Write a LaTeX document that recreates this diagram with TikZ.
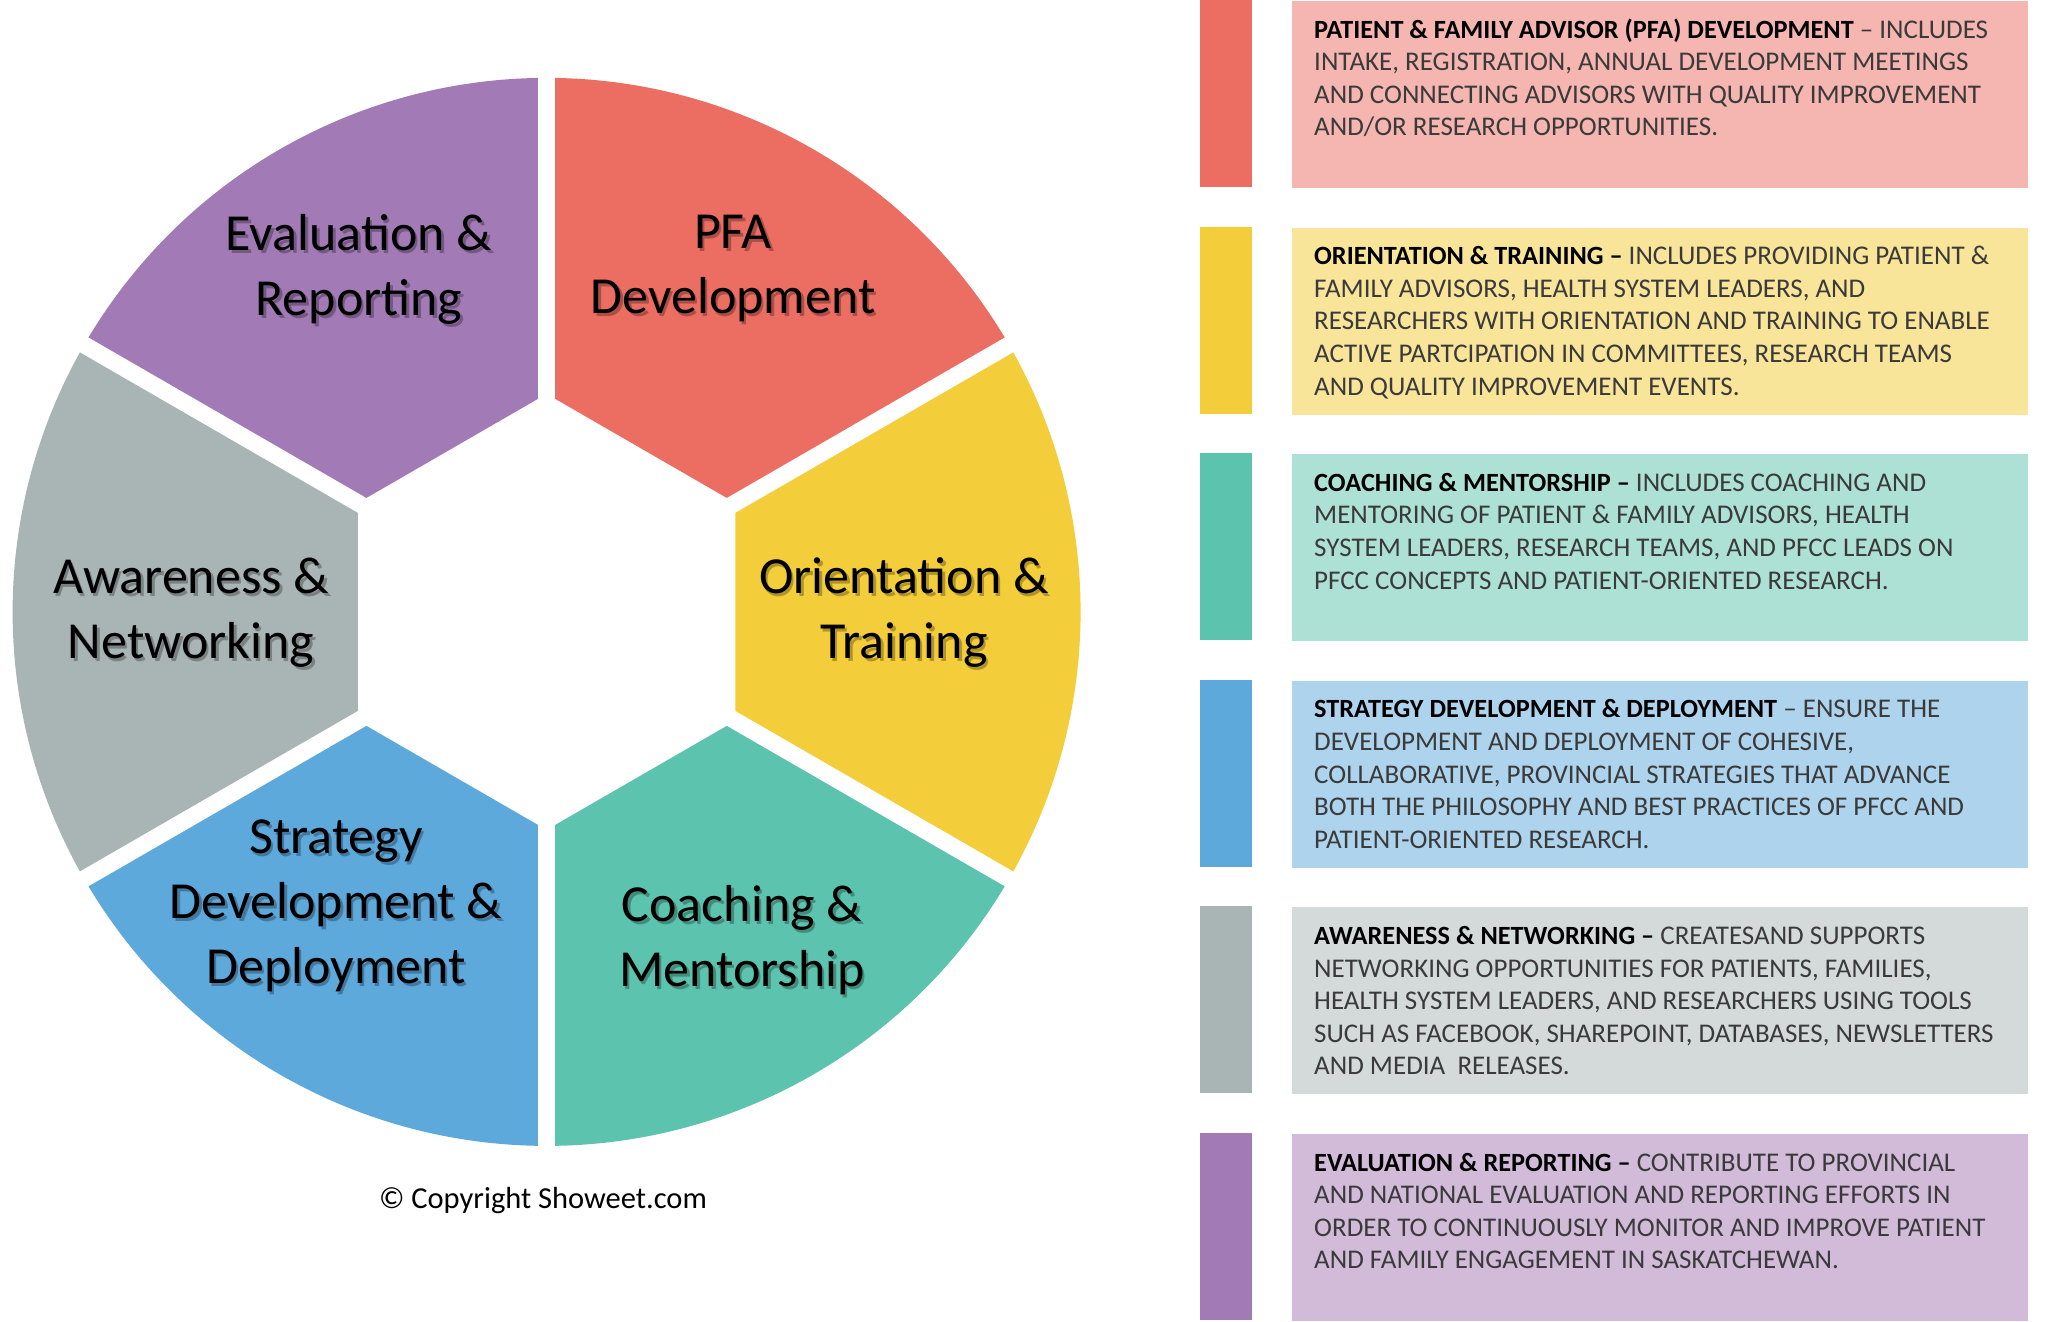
\documentclass[tikz,border=0pt]{standalone}
\usepackage{fontspec}
\setmainfont{Carlito}
\definecolor{cpfa}{HTML}{EC6D62}
\definecolor{cpfaL}{HTML}{F5B5B0}
\definecolor{cot}{HTML}{F4CE3A}
\definecolor{cotL}{HTML}{F8E59A}
\definecolor{ccm}{HTML}{5CC3AE}
\definecolor{ccmL}{HTML}{ADE1D5}
\definecolor{csdd}{HTML}{5EA9DB}
\definecolor{csddL}{HTML}{AED3EC}
\definecolor{cawn}{HTML}{A9B4B4}
\definecolor{cawnL}{HTML}{D4D9DA}
\definecolor{cevr}{HTML}{A27BB6}
\definecolor{cevrL}{HTML}{D1BBD9}
\definecolor{bodytext}{HTML}{3A3A3A}
\tikzset{
  seglabel/.style={font=\fontsize{52}{65}\selectfont, align=center, text=black, inner sep=0pt},
  segshadow/.style={font=\fontsize{52}{65}\selectfont, align=center, text=black, text opacity=0.28, inner sep=0pt},
  desc/.style={font=\fontsize{27}{32.6}\selectfont, align=left, text=bodytext, anchor=north west, inner sep=0pt},
}
\newcommand{\hd}[1]{{\fontsize{26.3}{32.6}\selectfont\bfseries\color{black}#1}}
\begin{document}
\begin{tikzpicture}[x=1pt,y=1pt]
\useasboundingbox (0,0) rectangle (2048,1322);
\fill[white] (0,0) rectangle (2048,1322);
\coordinate (C) at (546.6,710.1);
% wheel segments
\begin{scope}[shift={(546.6,710.1)}]
\foreach \a/\c in {30/cpfa, 90/cevr, 150/cawn, 210/csdd, 270/ccm, 330/cot}{
  \pgfmathsetmacro{\b}{\a+60}
  \fill[\c] (\a:218) -- (\a:534) arc[start angle=\a, end angle=\b, radius=534] -- (\b:218) -- cycle;
}
\foreach \a in {30,90,150,210,270,330}{
  \draw[white, line width=17] (0,0) -- (\a:560);
}
\end{scope}
% labels
\foreach \n/\x/\y/\t in {lpfa/733/1053/{PFA\\Development}, lot/904/709/{Orientation \&\\Training}, lcm/742/382/{Coaching \&\\Mentorship}, lsdd/336/416/{Strategy\\Development \&\\Deployment}, lawn/191/709/{Awareness \&\\Networking}, levr/359/1053/{Evaluation \&\\Reporting}}{
  \node[segshadow] (\n s) at (\x+2.5,\y-3) {\t};
  \node[seglabel] (\n) at (\x,\y) {\t};
}
\node[font=\fontsize{30.5}{36}\selectfont, text=black, inner sep=0pt] (copy) at (543,121) {© Copyright Showeet.com};
% right column
\foreach \i/\c/\cl in {0/cpfa/cpfaL, 1/cot/cotL, 2/ccm/ccmL, 3/csdd/csddL, 4/cawn/cawnL, 5/cevr/cevrL}{
  \pgfmathsetmacro{\t}{1322-226.6*\i}
  \fill[\c] (1200,\t) rectangle (1252,\t-187);
  \fill[\cl] (1292,\t-1) rectangle (2028,\t-188);
}
\node[desc] (d1) at (1314,1322-15) {\strut\hd{PATIENT \& FAMILY ADVISOR (PFA) DEVELOPMENT} – INCLUDES\\INTAKE, REGISTRATION, ANNUAL DEVELOPMENT MEETINGS\\AND CONNECTING ADVISORS WITH QUALITY IMPROVEMENT\\AND/OR RESEARCH OPPORTUNITIES.};
\node[desc] (d2) at (1314,1322-226.6-15) {\strut\hd{ORIENTATION \& TRAINING –} INCLUDES PROVIDING PATIENT \&\\FAMILY ADVISORS, HEALTH SYSTEM LEADERS, AND\\RESEARCHERS WITH ORIENTATION AND TRAINING TO ENABLE\\ACTIVE PARTCIPATION IN COMMITTEES, RESEARCH TEAMS\\AND QUALITY IMPROVEMENT EVENTS.};
\node[desc] (d3) at (1314,1322-453.2-15) {\strut\hd{COACHING \& MENTORSHIP –} INCLUDES COACHING AND\\MENTORING OF PATIENT \& FAMILY ADVISORS, HEALTH\\SYSTEM LEADERS, RESEARCH TEAMS, AND PFCC LEADS ON\\PFCC CONCEPTS AND PATIENT-ORIENTED RESEARCH.};
\node[desc] (d4) at (1314,1322-679.8-15) {\strut\hd{STRATEGY DEVELOPMENT \& DEPLOYMENT} – ENSURE THE\\DEVELOPMENT AND DEPLOYMENT OF COHESIVE,\\COLLABORATIVE, PROVINCIAL STRATEGIES THAT ADVANCE\\BOTH THE PHILOSOPHY AND BEST PRACTICES OF PFCC AND\\PATIENT-ORIENTED RESEARCH.};
\node[desc] (d5) at (1314,1322-906.4-15) {\strut\hd{AWARENESS \& NETWORKING –} CREATESAND SUPPORTS\\NETWORKING OPPORTUNITIES FOR PATIENTS, FAMILIES,\\HEALTH SYSTEM LEADERS, AND RESEARCHERS USING TOOLS\\SUCH AS FACEBOOK, SHAREPOINT, DATABASES, NEWSLETTERS\\AND MEDIA\ \ RELEASES.};
\node[desc] (d6) at (1314,1322-1133-15) {\strut\hd{EVALUATION \& REPORTING –} CONTRIBUTE TO PROVINCIAL\\AND NATIONAL EVALUATION AND REPORTING EFFORTS IN\\ORDER TO CONTINUOUSLY MONITOR AND IMPROVE PATIENT\\AND FAMILY ENGAGEMENT IN SASKATCHEWAN.};
\end{tikzpicture}
\end{document}
